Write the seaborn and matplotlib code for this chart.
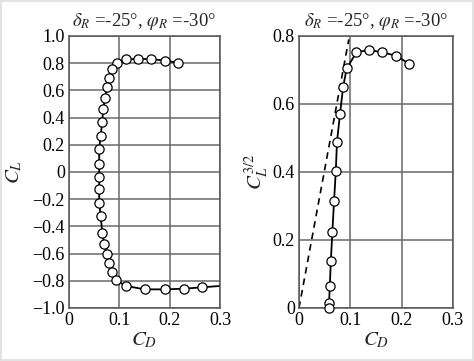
import matplotlib
matplotlib.use('Agg')
import numpy as np
import pandas as pd
import matplotlib.pyplot as plt
import seaborn as sns
from matplotlib.ticker import FuncFormatter

# Left panel: C_L vs C_D (last point is line end only, no marker)
cd_left = [0.216, 0.190, 0.163, 0.137, 0.113, 0.095, 0.0855, 0.080, 0.075, 0.072,
           0.068, 0.066, 0.063, 0.060, 0.060, 0.060, 0.060, 0.060, 0.063, 0.066,
           0.070, 0.075, 0.079, 0.0855, 0.093, 0.113, 0.151, 0.191, 0.229, 0.264, 0.300]
cl_left = [0.804, 0.819, 0.831, 0.831, 0.828, 0.799, 0.755, 0.689, 0.623, 0.547,
           0.463, 0.370, 0.267, 0.169, 0.059, -0.037, -0.127, -0.226, -0.324, -0.446,
           -0.529, -0.603, -0.667, -0.738, -0.794, -0.838, -0.863, -0.863, -0.858, -0.848, -0.838]

# Right panel: C_L^(3/2) vs C_D
cd_right = [0.215, 0.189, 0.162, 0.136, 0.112, 0.093, 0.086, 0.080, 0.074, 0.0717,
            0.0683, 0.065, 0.062, 0.060, 0.0586, 0.0586]
cl32_right = [0.718, 0.742, 0.752, 0.759, 0.752, 0.705, 0.651, 0.572, 0.489, 0.403,
              0.315, 0.224, 0.1375, 0.064, 0.015, 0.001]

# tangent line from origin
tan_cd = [0.0, 0.097]
tan_cl = [0.0, 0.79]

title_txt = r'$\delta_R$ =-25°, $\varphi_R$ =-30°'

sns.set_style("whitegrid")
plt.rcParams['font.family'] = ['Liberation Serif', 'DejaVu Serif']
plt.rcParams['mathtext.fontset'] = 'stix'
plt.rcParams['axes.unicode_minus'] = True

fig = plt.figure(figsize=(4.74, 3.61), dpi=100)
ax1 = fig.add_axes([69 / 474, 1 - 308 / 361, 151 / 474, 272 / 361])
ax2 = fig.add_axes([299 / 474, 1 - 308 / 361, 154 / 474, 272 / 361])


def fmt(v, pos):
    if abs(v) < 1e-9:
        return '0'
    return ('%.1f' % v).replace('-', '\u2212')


left = pd.DataFrame({'CD': cd_left, 'CL': cl_left})
right = pd.DataFrame({'CD': cd_right, 'CL32': cl32_right})

mk = dict(s=44, color='white', edgecolor='black', linewidth=0.9, zorder=3, clip_on=False)

sns.lineplot(data=left, x='CD', y='CL', sort=False, estimator=None, ax=ax1,
             color='black', lw=1.3)
sns.scatterplot(data=left.iloc[:-1], x='CD', y='CL', ax=ax1, **mk)

sns.lineplot(data=right, x='CD', y='CL32', sort=False, estimator=None, ax=ax2,
             color='black', lw=1.3)
sns.scatterplot(data=right, x='CD', y='CL32', ax=ax2, **mk)
ax2.plot(tan_cd, tan_cl, color='black', lw=1.2, ls=(0, (4, 3)))

ax1.set_xlim(0, 0.3)
ax1.set_ylim(-1.0, 1.0)
ax1.set_xticks([0, 0.1, 0.2, 0.3])
ax1.set_yticks(np.round(np.arange(-1.0, 1.01, 0.2), 1))
ax2.set_xlim(0, 0.3)
ax2.set_ylim(0, 0.8)
ax2.set_xticks([0, 0.1, 0.2, 0.3])
ax2.set_yticks([0, 0.2, 0.4, 0.6, 0.8])

for ax in (ax1, ax2):
    ax.xaxis.set_major_formatter(FuncFormatter(fmt))
    ax.yaxis.set_major_formatter(FuncFormatter(fmt))
    ax.grid(True, color='#6a6a6a', lw=1.1)
    ax.set_facecolor('white')
    for s in ax.spines.values():
        s.set_color('#555555')
        s.set_linewidth(1.1)
    ax.tick_params(labelsize=13, length=0, pad=3, colors='black')
    ax.set_title(title_txt, fontsize=13.5, pad=7)
    ax.set_xlabel(r'$C_D$', fontsize=15, labelpad=1)

ax1.set_ylabel(r'$C_L$', fontsize=15, labelpad=6)
ax2.set_ylabel(r'$C_L^{3/2}$', fontsize=15, labelpad=2)

fig.patch.set_edgecolor('#e2e2e2')
fig.patch.set_linewidth(1.5)
fig.savefig('out.png', dpi=100, facecolor='white', edgecolor=fig.get_edgecolor())
